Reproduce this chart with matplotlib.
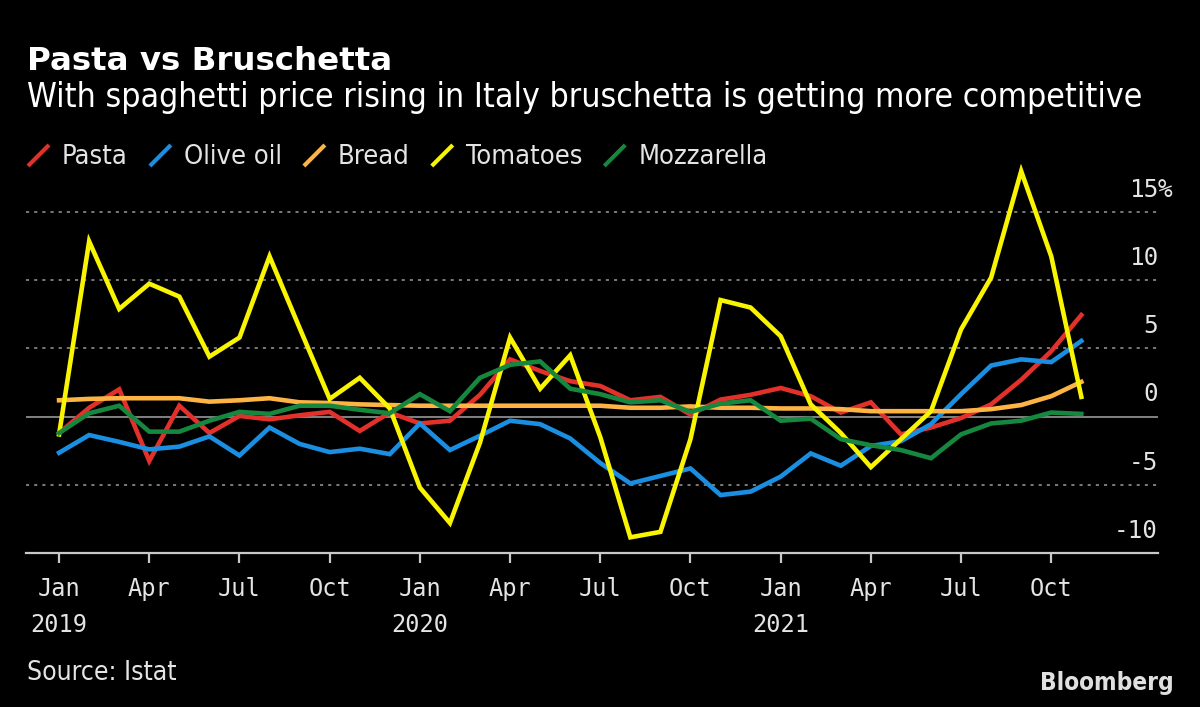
# -*- coding: utf-8 -*-

import numpy as np
import matplotlib as mpl
mpl.use('Agg')  # silent mode
import matplotlib.pyplot as plt
from matplotlib import font_manager as fm
from matplotlib.lines import Line2D
from matplotlib.transforms import offset_copy

#------------------ Data ----------------------
months = ['Jan', 'Feb', 'Mar', 'Apr', 'May', 'Jun', 'Jul', 'Aug', 'Sep', 'Oct', 'Nov', 'Dec']
years = [2019, 2020, 2021]
n_points = 35  # Jan 2019 .. Nov 2021

pasta = [-1.2, 0.65, 2.0, -3.25, 0.8, -1.2, 0.05, -0.2, 0.1, 0.35, -1.05, 0.3,
         -0.5, -0.3, 1.6, 4.2, 3.35, 2.6, 2.25, 1.2, 1.45, 0.15, 1.25, 1.6,
         2.1, 1.5, 0.3, 1.05, -1.3, -0.8, -0.1, 0.9, 2.7, 4.8, 7.45]
olive_oil = [-2.65, -1.35, -1.85, -2.4, -2.2, -1.45, -2.85, -0.8, -2.0, -2.6, -2.35, -2.75,
             -0.5, -2.45, -1.4, -0.3, -0.55, -1.6, -3.4, -4.9, -4.35, -3.8, -5.75, -5.5,
             -4.4, -2.7, -3.6, -2.15, -1.8, -0.55, 1.65, 3.75, 4.2, 4.0, 5.55]
bread = [1.2, 1.3, 1.35, 1.35, 1.35, 1.1, 1.2, 1.35, 1.05, 1.0, 0.9, 0.85,
         0.8, 0.8, 0.8, 0.8, 0.8, 0.8, 0.8, 0.65, 0.65, 0.75, 0.65, 0.65,
         0.6, 0.6, 0.55, 0.4, 0.4, 0.4, 0.4, 0.55, 0.85, 1.5, 2.55]
tomatoes = [-1.3, 12.85, 7.9, 9.75, 8.8, 4.4, 5.8, 11.75, 6.5, 1.3, 2.85, 0.6,
            -5.2, -7.8, -1.9, 5.8, 2.05, 4.5, -1.5, -8.85, -8.45, -1.65, 8.55, 8.0,
            5.9, 0.9, -1.2, -3.7, -1.65, 0.4, 6.4, 10.2, 18.0, 11.75, 1.45]
mozzarella = [-1.2, 0.25, 0.8, -1.1, -1.1, -0.3, 0.35, 0.2, 0.8, 0.8, 0.5, 0.25,
              1.65, 0.4, 2.85, 3.8, 4.05, 2.05, 1.65, 1.05, 1.2, 0.35, 0.95, 1.2,
              -0.3, -0.15, -1.65, -2.1, -2.45, -3.05, -1.3, -0.5, -0.3, 0.3, 0.2]

series = [('Pasta', pasta, '#e2302b'),
          ('Olive oil', olive_oil, '#1a8ee0'),
          ('Bread', bread, '#fdb445'),
          ('Tomatoes', tomatoes, '#f9f400'),
          ('Mozzarella', mozzarella, '#16873f')]

y_ticks = [-10, -5, 0, 5, 10, 15]

#------------------ FONT_setup ----------------------
have = {(f.name, f.stretch) for f in fm.fontManager.ttflist}
names = {f.name for f in fm.fontManager.ttflist}
if ('DejaVu Sans', 'condensed') in have:
    body = dict(family='DejaVu Sans', stretch='condensed')
elif 'Liberation Sans Narrow' in names:
    body = dict(family='Liberation Sans Narrow')
else:
    body = dict(family='DejaVu Sans')
mono = dict(family='DejaVu Sans Mono')

TXT = '#e4e4e4'
W, H = 1200, 707

def fx(x):
    return x / W

def fy(y):
    return 1 - y / H

#------------------ Figure Setup ----------------------
fig = plt.figure(figsize=(12, 7.07), dpi=100, facecolor='black')
ax = fig.add_axes([fx(26), fy(553), fx(1158) - fx(26), fy(160) - fy(553)])
ax.set_facecolor('black')

x = np.arange(n_points)
for name, vals, col in series:
    ax.plot(x, vals, color=col, lw=3.3, solid_joinstyle='miter', zorder=3)

ax.set_xlim(-1.1, 36.55)
ax.set_ylim(-10, 18.82)

# grid
for v in y_ticks[1:]:
    if v == 0:
        ax.axhline(v, color='#8c8c8c', lw=1.3, zorder=1)
    else:
        ax.axhline(v, color='#7a7a7a', lw=1.4, ls=(0, (1.6, 2.6)), zorder=1)

for s in ['top', 'right', 'left']:
    ax.spines[s].set_visible(False)
ax.spines['bottom'].set_color('#c8c8c8')
ax.spines['bottom'].set_linewidth(1.6)

# x ticks at quarters
qt = list(range(0, n_points, 3))
labels = []
for i in qt:
    m = months[i % 12]
    if i % 12 == 0:
        labels.append('%s\n%d' % (m, years[i // 12]))
    else:
        labels.append(m)
ax.set_xticks(qt)
ax.set_xticklabels(labels, color=TXT, fontsize=17, linespacing=1.62, **mono)
ax.tick_params(axis='x', length=7.5, width=1.6, color='#c8c8c8', pad=10)
ax.set_yticks([])

# y labels on the right, sitting above the gridlines
tr = offset_copy(ax.get_yaxis_transform(), fig=fig, x=0, y=11, units='points')
for v in y_ticks:
    ax.text(1.0, v, '%d' % v, transform=tr, ha='right', va='baseline',
            color=TXT, fontsize=17.5, **mono)
    if v == y_ticks[-1]:
        ax.text(1.0, v, '%', transform=tr, ha='left', va='baseline',
                color=TXT, fontsize=17.5, **mono)

#------------------ Titles ----------------------
fig.text(fx(27), fy(70), 'Pasta vs Bruschetta', color='white', fontsize=23.4,
         fontweight='bold', va='baseline', family='DejaVu Sans')
fig.text(fx(27), fy(107), 'With spaghetti price rising in Italy bruschetta is getting more competitive',
         color='white', fontsize=24.2, va='baseline', **body)

# legend with slash markers
r = fig.canvas.get_renderer()
xpos = 28
for name, vals, col in series:
    fig.add_artist(Line2D([fx(xpos), fx(xpos + 21)], [fy(166), fy(145)], color=col,
                          lw=3.0, solid_capstyle='butt', transform=fig.transFigure))
    t = fig.text(fx(xpos + 34), fy(164), name, color=TXT, fontsize=19.5,
                 va='baseline', **body)
    bb = t.get_window_extent(renderer=r)
    xpos = bb.x1 + 22

fig.text(fx(27), fy(680), 'Source: Istat', color=TXT, fontsize=19, va='baseline', **body)
fig.text(fx(1174), fy(690), 'Bloomberg', color='#e0e0e0', fontsize=17.5, fontweight='bold',
         ha='right', va='baseline', **body)

plt.savefig('out.png', dpi=100, facecolor='black')
